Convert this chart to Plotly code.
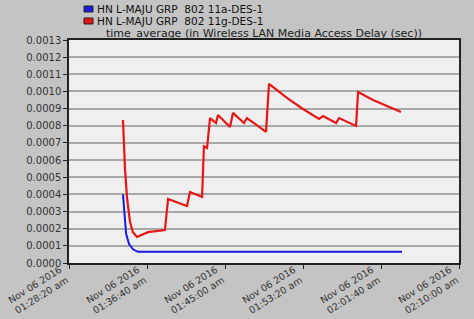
import plotly.graph_objects as go

# ---- data ----
x_tick_vals = ["2016-11-06 01:28:20", "2016-11-06 01:36:40", "2016-11-06 01:45:00",
               "2016-11-06 01:53:20", "2016-11-06 02:01:40", "2016-11-06 02:10:00"]
x_tick_text = ["Nov 06 2016<br>01:28:20 am", "Nov 06 2016<br>01:36:40 am", "Nov 06 2016<br>01:45:00 am",
               "Nov 06 2016<br>01:53:20 am", "Nov 06 2016<br>02:01:40 am", "Nov 06 2016<br>02:10:00 am"]

blue_name = "HN L-MAJU GRP  802 11a-DES-1"
blue_t = ["2016-11-06 01:34:06", "2016-11-06 01:34:16", "2016-11-06 01:34:26",
          "2016-11-06 01:34:45", "2016-11-06 01:35:10", "2016-11-06 01:35:42",
          "2016-11-06 02:03:55"]
blue_v = [0.00040, 0.00025, 0.00017, 0.00011, 0.000080, 0.000065, 0.000065]

red_name = "HN L-MAJU GRP  802 11g-DES-1"
red_t = ["2016-11-06 01:34:06", "2016-11-06 01:34:19", "2016-11-06 01:34:32",
         "2016-11-06 01:34:51", "2016-11-06 01:35:10", "2016-11-06 01:35:36",
         "2016-11-06 01:36:46", "2016-11-06 01:38:35", "2016-11-06 01:38:55",
         "2016-11-06 01:40:56", "2016-11-06 01:41:16", "2016-11-06 01:42:33",
         "2016-11-06 01:42:45", "2016-11-06 01:43:05", "2016-11-06 01:43:24",
         "2016-11-06 01:44:02", "2016-11-06 01:44:15", "2016-11-06 01:45:32",
         "2016-11-06 01:45:51", "2016-11-06 01:47:02", "2016-11-06 01:47:21",
         "2016-11-06 01:49:23", "2016-11-06 01:49:42", "2016-11-06 01:51:37",
         "2016-11-06 01:53:20", "2016-11-06 01:55:03", "2016-11-06 01:55:28",
         "2016-11-06 01:56:52", "2016-11-06 01:57:11", "2016-11-06 01:59:00",
         "2016-11-06 01:59:13", "2016-11-06 02:00:49", "2016-11-06 02:03:48"]
red_v = [0.000834, 0.00055, 0.00038, 0.00024, 0.00018, 0.000152,
         0.00018, 0.000192, 0.000373,
         0.000332, 0.000414, 0.000385,
         0.00068, 0.00067, 0.000845,
         0.000816, 0.000863, 0.000793,
         0.000875, 0.000816, 0.000845,
         0.000764, 0.001044, 0.000962,
         0.000898, 0.00084, 0.000857,
         0.000816, 0.000845, 0.000799,
         0.000997, 0.00095, 0.00088]

title_text = "time_average (in Wireless LAN Media Access Delay (sec))"

fig = go.Figure()
fig.add_trace(go.Scatter(x=blue_t, y=blue_v, mode="lines", name=blue_name,
                         line=dict(color="#1a1ae6", width=2), showlegend=False))
fig.add_trace(go.Scatter(x=red_t, y=red_v, mode="lines", name=red_name,
                         line=dict(color="#e81515", width=2.2), showlegend=False))

font = "DejaVu Sans, Verdana, sans-serif"
fig.update_layout(
    width=474, height=319,
    margin=dict(l=69, r=15, t=40, b=56),
    paper_bgcolor="#c4c4c4",
    plot_bgcolor="#efefef",
    font=dict(family=font, size=10, color="#333333"),
    xaxis=dict(type="date", range=["2016-11-06 01:28:20", "2016-11-06 02:10:00"],
               tickvals=x_tick_vals, ticktext=x_tick_text, tickangle=-32,
               automargin=False, ticklabelstandoff=-8, ticklabelshift=-9,
               showgrid=False, showline=True, linecolor="#222222", linewidth=1.5,
               mirror=True, ticks="outside", ticklen=4, tickcolor="#222222",
               tickfont=dict(size=9.5, color="#333333")),
    yaxis=dict(range=[0, 0.0013], dtick=0.0001, tick0=0, tickformat=".4f",
               automargin=False,
               showgrid=True, gridcolor="#a8a8a8", gridwidth=1.5,
               showline=True, linecolor="#222222", linewidth=1.5, mirror=True,
               ticks="outside", ticklen=4, tickcolor="#222222", zeroline=False,
               tickfont=dict(size=10, color="#333333")),
)

fig.add_annotation(x=0.5, y=1.0, xref="paper", yref="paper", xanchor="center",
                   yanchor="bottom", yshift=-2, text=title_text, showarrow=False,
                   font=dict(size=11, color="#222222", family=font))

# legend (manual)
for i, (name, col) in enumerate([(blue_name, "#1a1ae6"), (red_name, "#e81515")]):
    ytop = 5 + i * 12
    fig.add_shape(type="rect", xref="paper", yref="paper",
                  x0=(84 - 69) / 390, x1=(93 - 69) / 390,
                  y0=1 + ((263 - ytop - 7) - 223) / 223,
                  y1=1 + ((263 - ytop - 1) - 223) / 223,
                  fillcolor=col, line=dict(color="#222222", width=1))
    fig.add_annotation(x=(96 - 69) / 390, y=1 + ((263 - ytop - 4) - 223) / 223,
                       xref="paper", yref="paper", xanchor="left", yanchor="middle",
                       text=name, showarrow=False, borderpad=0,
                       font=dict(size=10.5, color="#111111", family=font))

fig.write_html("out.html")
